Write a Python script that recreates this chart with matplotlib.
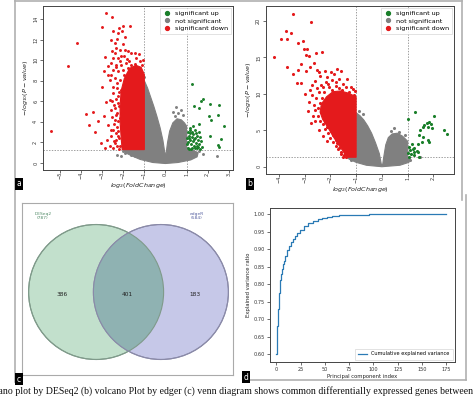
import matplotlib
matplotlib.use("Agg")
import matplotlib.pyplot as plt
from matplotlib.lines import Line2D
from matplotlib.patches import Polygon, Circle

# ---------------- data ----------------
# Panel a (DESeq2 volcano)
a_red_x = [-2.83,-2.51,-3.0,-2.01,-2.07,-1.69,-2.48,-2.24,-2.4,-2.32,-2.17,-1.93,-1.77,-1.61,-1.46,-2.86,-2.4,-2.48,-2.24,-2.09,
           -1.38,-1.22,-1.06,-2.56,-2.32,-2.09,-1.85,-1.61,-1.46,-2.91,-2.72,-2.48,-2.24,-2.01,-1.77,-1.54,-1.3,-2.64,-2.4,-2.17,
           -1.98,-1.69,-2.29,-2.09,-1.93,-2.48,-2.64,-2.24,-2.45,-2.2,-2.56,-2.32,-2.4,-2.17,-2.48,-2.24,-2.56,-2.32,-2.4,-2.64,
           -2.17,-2.24,-2.09,-2.09,-5.43,-4.61,-4.21,-3.74,-3.63,-3.43,-3.35,-3.19,-3.06,
           -2.7,-2.8,-2.9,-2.75,-3.0,-2.85,
           -2.3,-2.5,-2.2,-2.35,-2.55,-2.25,-2.4,-2.3,-2.55,-2.25,-2.45,-2.3,-2.6,-2.35,-2.2,-2.45,-2.3,-2.5,-2.2,-2.6,
           -2.35,-2.15,-1.95,-1.8,-2.55,-2.7,-2.0,-1.9,-2.6,-2.3,-2.2,-1.75,-1.25,-1.12]
a_red_y = [14.58,14.19,13.22,13.29,12.8,13.29,12.8,12.64,11.67,11.18,11.02,11.02,10.86,10.69,10.69,10.3,10.69,10.2,10.2,10.37,
           10.2,9.88,10.05,9.72,9.56,9.56,9.72,9.56,9.66,8.91,8.59,9.0,8.91,9.07,9.24,9.07,9.24,8.1,8.26,8.1,
           8.59,8.43,7.29,7.13,7.61,6.8,6.16,6.48,5.67,5.51,5.18,4.7,4.21,4.37,3.24,3.08,2.59,2.27,1.94,1.62,
           1.62,2.59,3.56,4.86,3.08,9.4,11.67,4.76,3.66,4.93,3.05,4.05,1.94,
           3.7,5.9,4.6,2.2,7.4,1.5,
           7.8,7.4,6.9,6.2,6.0,5.8,5.3,4.9,4.5,4.1,3.8,3.5,3.2,2.9,2.4,2.1,1.7,1.45,1.35,8.6,
           9.3,9.9,10.4,10.1,10.9,9.4,11.6,12.2,12.0,12.1,13.1,9.9,10.6,9.5]
a_red_region_x = [-1.0,-1.0,-1.15,-1.4,-1.7,-1.95,-2.1,-2.15,-2.15,-2.1,-2.05]
a_red_region_y = [1.3,8.6,9.3,9.5,9.2,8.2,7.0,5.5,4.0,2.5,1.3]
a_green_x = [1.27,1.35,1.58,1.69,1.77,2.13,2.56,2.48,2.06,2.17,2.76,2.12,2.64,2.48,2.56,1.3,1.17,1.46,1.58,
             1.05,1.1,1.15,1.2,1.05,1.25,1.3,1.35,1.4,1.45,1.5,1.55,1.6,1.65,1.12,1.22,1.4,1.62,1.08,1.18,1.32,
             1.5,1.7,1.28,1.02,1.38,1.6,1.75,1.15,1.48,1.25,1.02,1.12,1.33,1.55]
a_green_y = [7.68,5.57,5.35,5.99,6.25,5.74,5.6,4.7,4.54,4.2,3.63,2.66,2.33,1.72,1.56,3.63,3.4,2.9,3.8,
             3.0,2.6,2.2,1.8,1.5,2.5,2.1,1.7,2.4,1.9,1.5,2.2,1.8,2.5,1.4,1.35,1.45,1.4,2.0,2.9,2.8,
             2.6,2.1,1.5,2.4,3.2,3.0,1.6,3.2,1.7,3.0,1.8,2.4,2.35,1.6]
a_gray_x = [-2.29,-2.0,-1.61,-1.46,-1.02,0.51,0.75,0.35,2.43,1.61,1.46,1.77,0.6,0.85,0.45,-1.9,-2.1]
a_gray_y = [0.81,1.13,0.81,0.65,8.33,5.44,5.18,4.93,0.65,1.13,0.97,0.9,4.9,4.7,4.6,0.95,0.7]
a_gray_region_x = [-1.0,-0.85,-0.7,-0.55,-0.4,-0.25,-0.12,-0.03,0.03,0.1,0.2,0.35,0.55,0.75,0.9,1.0,1.0,1.3,1.55,1.5,
                   1.2,0.6,0.0,-0.6,-1.2,-1.6,-1.9,-2.0,-1.0]
a_gray_region_y = [8.0,7.3,6.4,5.5,4.5,3.4,2.2,1.0,0.9,2.0,3.1,3.9,4.3,4.2,3.9,3.6,1.3,1.25,1.0,0.6,
                   0.3,0.05,-0.05,0.05,0.35,0.7,1.0,1.3,1.3]

# Panel b (edgeR volcano)
b_red_x = [-4.19,-3.9,-3.74,-3.68,-3.51,-3.44,-3.68,-3.45,-3.31,-3.16,-3.25,-3.26,-3.05,-3.03,-2.9,-2.96,-2.83,-2.74,-2.57,-2.31,
           -3.13,-2.96,-2.79,-2.64,-2.53,-2.44,-2.99,-2.83,-2.66,-2.61,-2.7,-2.51,-2.22,-2.12,-1.99,-1.86,-1.73,-1.92,-2.18,-1.6,
           -2.35,-2.25,-2.31,-2.4,-2.48,-2.38,-2.27,-2.18,-2.09,-2.22,-2.12,-1.99,-1.88,-2.01,-1.79,-1.73,-1.66,-1.6,-1.49,-1.4,
           -1.86,-2.05,-1.92,-1.79,-1.66,-1.53,-1.4,-1.27,-1.14,-1.08,-1.47,-1.73,-1.6,-1.86,-2.05,-2.18,-1.92,-1.99,
           -2.55,-2.65,-2.6,-2.5,-2.4,-2.3,-2.2,-2.1,-2.0,-1.9,-1.8,-1.7,-1.6,-1.5,-2.45,-2.3,-2.1,-1.8,-1.5,-1.2,
           -1.05,-2.7,-2.8,-2.6,-2.4,-1.65,-1.35,-2.85,-2.75,-2.45,-2.3,-2.15]
b_red_y = [15.0,17.48,18.63,17.53,18.31,20.96,13.73,12.72,11.53,11.53,13.27,16.93,17.3,16.11,16.11,15.33,15.19,19.91,15.65,15.79,
           14.1,13.13,13.73,14.19,13.27,13.04,9.98,8.92,6.96,6.32,11.21,10.76,13.18,12.36,13.04,12.72,13.36,11.9,11.67,13.18,
           11.2,10.3,9.38,8.7,8.0,7.55,8.24,7.32,6.64,6.18,5.49,4.94,4.35,5.95,3.66,3.2,2.52,2.06,1.6,1.37,
           5.72,10.98,10.5,11.07,10.76,10.5,10.89,10.3,10.62,9.84,9.61,10.07,9.61,9.61,9.15,8.7,8.7,8.0,
           9.5,8.5,7.8,7.0,6.3,5.8,5.2,4.6,4.0,3.4,2.9,2.4,1.8,1.4,10.2,11.0,11.4,11.6,11.3,11.0,
           10.4,9.9,10.5,11.8,12.4,12.1,12.0,7.6,6.0,5.0,4.2,3.5]
b_red_region_x = [-1.0,-1.0,-1.3,-1.6,-1.9,-2.15,-2.35,-2.4,-2.3,-2.1,-1.9,-1.7,-1.5,-1.38]
b_red_region_y = [1.3,9.6,10.1,10.4,10.3,9.6,8.6,7.5,6.5,5.4,4.2,3.1,2.1,1.3]
b_green_x = [1.29,2.04,1.03,1.75,1.84,1.9,1.65,1.58,1.78,1.49,1.94,2.43,2.52,1.45,1.58,1.78,1.84,1.55,1.39,1.16,
             1.06,1.26,1.1,1.23,1.35,1.42,1.0,1.13,1.26,1.45,1.04,1.2]
b_green_y = [7.55,7.0,6.54,6.04,6.13,5.86,5.72,5.49,5.4,5.03,5.26,5.03,4.48,4.35,4.12,3.66,3.43,3.43,3.11,3.11,
             2.75,2.52,2.29,2.06,2.2,2.06,1.92,1.74,1.6,1.37,1.37,2.38]
b_gray_x = [0.48,0.35,-0.75,-0.9,1.1,1.49,-1.2,-1.1,0.65,0.9]
b_gray_y = [5.3,4.9,7.2,7.6,0.9,1.28,0.9,1.1,4.8,4.3]
b_gray_region_x = [-1.0,-0.85,-0.7,-0.55,-0.4,-0.25,-0.1,-0.02,0.03,0.08,0.15,0.25,0.4,0.6,0.8,1.0,1.0,1.1,1.05,0.7,
                   0.0,-0.6,-1.0,-1.25,-1.38,-1.0]
b_gray_region_y = [7.4,7.0,6.4,5.6,4.6,3.3,1.8,0.3,0.3,1.5,3.0,4.0,4.5,4.6,4.2,3.5,1.3,1.1,0.6,0.2,
                   0.0,0.2,0.6,1.0,1.3,1.3]

# Panel c (venn)
venn_names = ["DESeq2", "edgeR"]
venn_totals = [787, 584]
venn_counts = [386, 401, 183]

# Panel d (PCA cumulative explained variance)
pc_index = [0,1,2,3,4,5,6,7,8,10,12,14,16,18,20,23,26,30,35,40,45,50,55,60,70,80,90,100,125,150,175]
cum_var = [0.600,0.680,0.730,0.775,0.812,0.830,0.845,0.858,0.868,0.882,0.897,0.910,0.921,0.930,0.938,0.948,0.956,
           0.966,0.975,0.981,0.986,0.990,0.992,0.994,0.997,0.998,0.999,0.9995,1.0,1.0,1.0]

caption = ("(a) volcano plot by DESeq2 (b) volcano Plot by edger (c) venn diagram shows common "
           "differentially expressed genes between DESeq2 and edgeR")

# ---------------- figure ----------------
W, H = 474, 399
fig = plt.figure(figsize=(W / 100, H / 100), dpi=100)
fig.patch.set_facecolor("white")


def rect(l, t, r, b):
    return [l / W, 1 - b / H, (r - l) / W, (b - t) / H]


def fline(xs, ys, color="#b0b0b0", lw=1.2):
    fig.add_artist(Line2D([x / W for x in xs], [1 - y / H for y in ys], color=color, lw=lw,
                          transform=fig.transFigure))


RED, GREEN, GRAY = "#e41a1c", "#1a7f2a", "#808080"
TICK_FS = 3.6


def volcano(ax, rx, ry, rreg, gx, gy, grx, gry, greg, xlim, ylim, xticks, yticks, ms):
    ax.add_patch(Polygon(list(zip(*greg)), closed=True, fc=GRAY, ec=GRAY, lw=0.8, zorder=1))
    ax.scatter(grx, gry, s=ms, c=GRAY, lw=0, zorder=2)
    ax.add_patch(Polygon(list(zip(*rreg)), closed=True, fc=RED, ec=RED, lw=0.8, zorder=3))
    ax.scatter(rx, ry, s=ms, c=RED, lw=0, zorder=4)
    ax.scatter(gx, gy, s=ms, c=GREEN, lw=0, zorder=4)
    for xv in (-1, 1):
        ax.axvline(xv, ls=(0, (2, 2)), color="#777777", lw=0.5, zorder=0.5)
    ax.axhline(1.3, ls=(0, (2, 2)), color="#777777", lw=0.5, zorder=0.5)
    ax.set_xlim(*xlim)
    ax.set_ylim(*ylim)
    ax.set_xticks(xticks)
    ax.set_yticks(yticks)
    ax.tick_params(labelsize=TICK_FS, length=2, width=0.5, pad=1.5, colors="#333333")
    for lab in ax.get_xticklabels() + ax.get_yticklabels():
        lab.set_rotation(90)
        lab.set_va("center")
    for sp in ax.spines.values():
        sp.set_linewidth(0.7)
        sp.set_color("#444444")
    ax.set_xlabel(r"$log_2(FoldChange)$", fontsize=4.6, labelpad=2, color="#222222")
    ax.set_ylabel(r"$-log_{10}(P-value)$", fontsize=4.6, labelpad=2, color="#222222")
    handles = [Line2D([], [], marker="o", ls="", color=c, markersize=2.8) for c in (GREEN, GRAY, RED)]
    leg = ax.legend(handles, ["significant up", "not significant", "significant down"], loc="upper right",
                    fontsize=4.6, handletextpad=0.6, borderpad=0.5, labelspacing=0.3, borderaxespad=0.25,
                    handlelength=1.2, frameon=True, fancybox=False)
    leg.get_frame().set_edgecolor("#cccccc")
    leg.get_frame().set_linewidth(0.5)


ax_a = fig.add_axes(rect(43, 6, 233, 170))
volcano(ax_a, a_red_x, a_red_y, (a_red_region_x, a_red_region_y), a_green_x, a_green_y,
        a_gray_x, a_gray_y, (a_gray_region_x, a_gray_region_y),
        (-5.8, 3.2), (-0.68, 15.26), range(-5, 4), range(0, 15, 2), 4.5)

ax_b = fig.add_axes(rect(266, 6, 454, 174))
volcano(ax_b, b_red_x, b_red_y, (b_red_region_x, b_red_region_y), b_green_x, b_green_y,
        b_gray_x, b_gray_y, (b_gray_region_x, b_gray_region_y),
        (-4.5, 2.8), (-1.0, 22.06), range(-4, 3), range(0, 21, 5), 5)

# ---- panel c venn ----
ax_c = fig.add_axes(rect(22, 203, 233, 375))
ax_c.set_xlim(-1.578, 1.548)
ax_c.set_ylim(-1.23, 1.319)
ax_c.set_xticks([])
ax_c.set_yticks([])
for sp in ax_c.spines.values():
    sp.set_color("#aaaaaa")
    sp.set_linewidth(0.8)
c1 = Circle((-0.48, 0), 1.0, fc="#c2e0cc", ec="#7f9a8a", lw=0.8, zorder=1)
c2 = Circle((0.48, 0), 1.0, fc="#c6c8e8", ec="#8a8aa8", lw=0.8, zorder=1)
ax_c.add_patch(c1)
ax_c.add_patch(c2)
lens = Circle((0.48, 0), 1.0, fc="#8fb2b2", ec="none", zorder=2)
ax_c.add_patch(lens)
lens.set_clip_path(c1)
c1b = Circle((-0.48, 0), 1.0, fc="none", ec="#7f9a8a", lw=0.8, zorder=3)
c2b = Circle((0.48, 0), 1.0, fc="none", ec="#8a8aa8", lw=0.8, zorder=3)
ax_c.add_patch(c1b)
ax_c.add_patch(c2b)
ax_c.text(-1.27, 1.13, f"{venn_names[0]}\n({venn_totals[0]})", ha="center", va="center", fontsize=3.2,
          color="#4f8a66", linespacing=1.0)
ax_c.text(1.01, 1.13, f"{venn_names[1]}\n({venn_totals[1]})", ha="center", va="center", fontsize=3.2,
          color="#5560a0", linespacing=1.0)
for xv, n in zip((-0.99, -0.02, 0.99), venn_counts):
    ax_c.text(xv, -0.04, str(n), ha="center", va="center", fontsize=4.2, color="#222222", zorder=5)

# ---- panel d ----
ax_d = fig.add_axes(rect(270, 208, 455, 362))
ax_d.plot(pc_index, cum_var, color="#2a7ab5", lw=0.9, drawstyle="steps-mid",
          label="Cumulative explained variance")
ax_d.set_xlim(-6.5, 184)
ax_d.set_ylim(0.578, 1.018)
ax_d.set_xticks(range(0, 176, 25))
ax_d.set_yticks([0.60, 0.65, 0.70, 0.75, 0.80, 0.85, 0.90, 0.95, 1.00])
ax_d.set_yticklabels([f"{v:.2f}" for v in ax_d.get_yticks()])
ax_d.tick_params(labelsize=3.6, length=2, width=0.5, pad=1.5, colors="#333333")
for sp in ax_d.spines.values():
    sp.set_linewidth(0.7)
    sp.set_color("#444444")
ax_d.set_xlabel("Principal component index", fontsize=3.8, labelpad=1.5, color="#222222")
ax_d.set_ylabel("Explained variance ratio", fontsize=3.8, labelpad=2, color="#222222")
legd = ax_d.legend(loc="lower right", fontsize=3.6, handlelength=1.8, borderpad=0.6, fancybox=False)
legd.get_frame().set_edgecolor("#cccccc")
legd.get_frame().set_linewidth(0.5)

# ---- frames ----
fline([15, 15], [0, 382])
fline([15, 462], [1, 1])
fline([462, 462], [0, 200])
fline([466, 466], [195, 380])
fline([248, 466], [380, 380])

# ---- panel letters ----
for letter, x, y in (("a", 19, 184), ("b", 250, 184), ("c", 19, 379), ("d", 246, 377)):
    fig.text(x / W, 1 - y / H, letter, color="white", fontsize=5.5, ha="center", va="center",
             bbox=dict(facecolor="black", edgecolor="none", boxstyle="square,pad=0.2"))

# ---- caption (cropped on the left, as in the reference) ----
fig.canvas.draw()
renderer = fig.canvas.get_renderer()
cap_kw = dict(fontsize=7.15, family="Liberation Serif", color="#111111", va="baseline", ha="left")
probe = fig.text(0, 0, "(a) volc", **cap_kw)
wpx = probe.get_window_extent(renderer).width
probe.remove()
fig.text((-wpx - 2) / W, 1 - 394 / H, caption, **cap_kw)

fig.savefig("out.png", dpi=100, facecolor="white")
